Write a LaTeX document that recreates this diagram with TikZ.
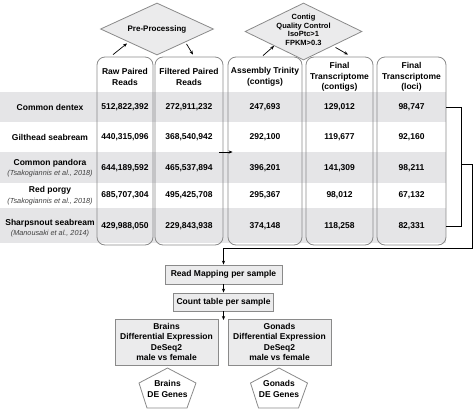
\documentclass[tikz,border=0pt]{standalone}
\usepackage{fontspec}
\setmainfont{Liberation Sans}
\usetikzlibrary{shapes.geometric,arrows.meta}
\definecolor{band}{HTML}{E5E5E7}
\definecolor{boxfill}{HTML}{EBEBEC}
\definecolor{edge}{HTML}{8A8A8A}
\newcommand\citetxt{\fontsize{7.3}{9}\selectfont\mdseries\itshape\color{black!75}}
\begin{document}
\begin{tikzpicture}[x=1pt,y=-1pt,
  font=\fontsize{8.5}{10.5}\selectfont\bfseries,
  colbox/.style={draw=edge,line width=0.8pt,rounded corners=8pt,inner sep=0pt},
  dbox/.style={diamond,draw=edge,fill=boxfill,line width=0.8pt,inner sep=0pt},
  lbox/.style={draw=edge,fill=boxfill,line width=0.8pt,align=center,inner sep=0pt},
  pent/.style={draw=edge,fill=white,line width=0.8pt},
  txt/.style={align=center,inner sep=0pt},
  smallarr/.style={line width=0.7pt,-{Stealth[length=4pt,width=3.2pt]}},
  bigline/.style={line width=1pt},
  bigarr/.style={line width=1pt,-{Stealth[length=4pt,width=3.2pt]}}]
\useasboundingbox (0,0) rectangle (474,413);
% row bands
\fill[band] (0,92) rectangle (446,122);
\fill[band] (0,152) rectangle (446,183);
\fill[band] (0,208) rectangle (446,243);
% column boxes
\node[colbox,minimum width=56pt,minimum height=188pt] (c1) at (125,151) {};
\node[colbox,minimum width=68pt,minimum height=188pt] (c2) at (189,151) {};
\node[colbox,minimum width=74pt,minimum height=188pt] (c3) at (265,151) {};
\node[colbox,minimum width=67pt,minimum height=188pt] (c4) at (339.5,151) {};
\node[colbox,minimum width=69pt,minimum height=188pt] (c5) at (411.5,151) {};
% headers
\node[txt] (h1) at (125,77) {Raw Paired\\Reads};
\node[txt] (h2) at (189,77) {Filtered Paired\\Reads};
\node[txt] (h3) at (265,77) {Assembly Trinity\\(contigs)};
\node[txt] (h4) at (339.5,77) {Final\\Transcriptome\\(contigs)};
\node[txt] (h5) at (411.5,77) {Final\\Transcriptome\\(loci)};
% row labels
\node[txt] (l1) at (50,107) {Common dentex};
\node[txt] (l2) at (50,137) {Gilthead seabream};
\node[txt] (l3) at (50,168) {Common pandora\\{\citetxt (Tsakogiannis et al., 2018)}};
\node[txt] (l4) at (50,195.5) {Red porgy\\{\citetxt (Tsakogiannis et al., 2018)}};
\node[txt] (l5) at (50,228) {Sharpsnout seabream\\{\citetxt (Manousaki et al., 2014)}};
% numbers column 1
\node[txt] (n11) at (125,107) {512,822,392};
\node[txt] (n12) at (125,137) {440,315,096};
\node[txt] (n13) at (125,168) {644,189,592};
\node[txt] (n14) at (125,195) {685,707,304};
\node[txt] (n15) at (125,226) {429,988,050};
% column 2
\node[txt] (n21) at (189,107) {272,911,232};
\node[txt] (n22) at (189,137) {368,540,942};
\node[txt] (n23) at (189,168) {465,537,894};
\node[txt] (n24) at (189,195) {495,425,708};
\node[txt] (n25) at (189,226) {229,843,938};
% column 3
\node[txt] (n31) at (265,107) {247,693};
\node[txt] (n32) at (265,137) {292,100};
\node[txt] (n33) at (265,168) {396,201};
\node[txt] (n34) at (265,195) {295,367};
\node[txt] (n35) at (265,226) {374,148};
% column 4
\node[txt] (n41) at (339.5,107) {129,012};
\node[txt] (n42) at (339.5,137) {119,677};
\node[txt] (n43) at (339.5,168) {141,309};
\node[txt] (n44) at (339.5,195) {98,012};
\node[txt] (n45) at (339.5,226) {118,258};
% column 5
\node[txt] (n51) at (411.5,107) {98,747};
\node[txt] (n52) at (411.5,137) {92,160};
\node[txt] (n53) at (411.5,168) {98,211};
\node[txt] (n54) at (411.5,195) {67,132};
\node[txt] (n55) at (411.5,226) {82,331};
% diamonds
\node[dbox,minimum width=113pt,minimum height=52pt] (pre) at (157,29) {};
\node[txt,font=\fontsize{8}{10}\selectfont\bfseries] (pret) at (pre) {Pre-Processing};
\node[dbox,minimum width=117pt,minimum height=57pt] (qc) at (303.5,31.5) {};
\node[txt,font=\fontsize{7.5}{8.5}\selectfont\bfseries] (qct) at (303.5,30) {Contig\\Quality Control\\IsoPtc>1\\FPKM>0.3};
% small arrows
\draw[smallarr,shorten >=2pt] ([shift={(-12,-2)}]c1.north) -- (pre.south west);
\draw[smallarr,shorten <=2pt] (pre.south east) -- ([shift={(4,-2)}]c2.north);
\draw[smallarr] ([shift={(-2,-1)}]c3.north) -- (qc.south west);
\draw[smallarr,shorten <=3pt] (qc.south east) -- ([shift={(8.5,-2)}]c4.north);
\draw[smallarr] ([shift={(-4,1)}]c2.east) -- ([shift={(5,1)}]c3.west);
% lower flow
\node[lbox,minimum width=117pt,minimum height=19pt] (rm) at (223.5,274.5) {Read Mapping per sample};
\node[lbox,minimum width=100pt,minimum height=18pt] (ct) at (223.5,302) {Count table per sample};
\node[lbox,minimum width=103pt,minimum height=46pt] (br) at (166.5,342) {Brains\\Differential Expression\\DeSeq2\\male vs female};
\node[lbox,minimum width=103pt,minimum height=46pt] (go) at (279.5,342) {Gonads\\Differential Expression\\DeSeq2\\male vs female};
\coordinate (split) at (223.5,320);
% bracket and connector
\draw[bigline] (c5.east |- n51) -- ++(15,0) |- (c5.east |- n55);
\coordinate (bm) at (461,164);
\coordinate (turn) at (223.5,248);
\draw[bigarr] (bm) -- ++(11,0) |- (turn) -- (rm.north);
\draw[smallarr] (rm.south) -- (ct.north);
\draw[smallarr] (ct.south) -- (split);
% pentagons
\coordinate (pbc) at (167.5,390);
\draw[pent] ([shift={(0,-22)}]pbc) -- ([shift={(28.5,-7)}]pbc) -- ([shift={(19.5,18)}]pbc) -- ([shift={(-20.5,18)}]pbc) -- ([shift={(-28.5,-7)}]pbc) -- cycle;
\node[txt] (pb) at (167.5,389) {Brains\\DE Genes};
\coordinate (pgc) at (279,390);
\draw[pent] ([shift={(0,-22)}]pgc) -- ([shift={(28.5,-7)}]pgc) -- ([shift={(19.5,18)}]pgc) -- ([shift={(-20.5,18)}]pgc) -- ([shift={(-28.5,-7)}]pgc) -- cycle;
\node[txt] (pg) at (279,389) {Gonads\\DE Genes};
\end{tikzpicture}
\end{document}
